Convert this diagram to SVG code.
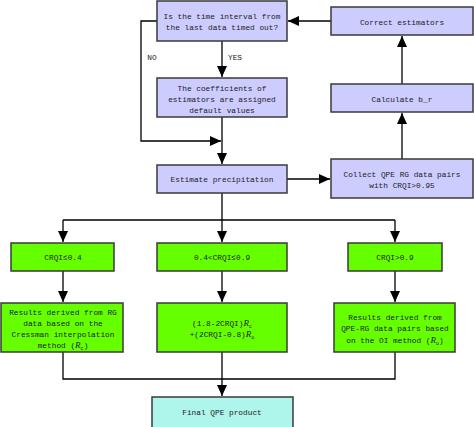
<svg xmlns="http://www.w3.org/2000/svg" width="474" height="427" viewBox="0 0 474 427">
<defs>
<marker id="ah" markerUnits="userSpaceOnUse" markerWidth="12" markerHeight="12" viewBox="0 0 12 12" refX="11" refY="6" orient="auto">
<path d="M0,1 L11,6 L0,11 Z" fill="#000"/>
</marker>
<style>
.b{fill:#ccccff;stroke:#3a3a3a;stroke-width:1.5}
.g{fill:#66ff00;stroke:#3a3a3a;stroke-width:1.5}
.c{fill:#aef5ec;stroke:#3a3a3a;stroke-width:1.5}
text{font-family:"Liberation Mono","DejaVu Sans Mono",monospace;font-size:7.8px;fill:#222;text-anchor:middle}
.l{fill:none;stroke:#000;stroke-width:1.3}
.a{fill:none;stroke:#000;stroke-width:1.3;marker-end:url(#ah)}
.ri{font-family:"Liberation Serif",serif;font-style:italic;font-size:9px}
.sb{font-size:5px}
</style>
</defs>
<rect width="474" height="427" fill="#fff"/>
<g id="connectors">
<path class="a" d="M331,21 H288"/>
<path class="a" d="M402,84 V36"/>
<path class="a" d="M157,21 H141 V141 H221"/>
<path class="a" d="M222,41 V77"/>
<path class="l" d="M222,117 V141"/>
<path class="a" d="M222,141 V164"/>
<path class="a" d="M287,179 H330"/>
<path class="a" d="M402,159 V113"/>
<path class="l" d="M222,193 V220 M63,220 H395"/>
<path class="a" d="M63,220 V242"/>
<path class="a" d="M222,220 V242"/>
<path class="a" d="M395,220 V242"/>
<path class="a" d="M63,271 V302"/>
<path class="a" d="M222,271 V302"/>
<path class="a" d="M395,271 V302"/>
<path class="l" d="M63,352 V379 H395 V352 M222,352 V379"/>
<path class="a" d="M222,379 V396"/>
<text x="152" y="60">NO</text>
<text x="235" y="60">YES</text>
</g>
<g id="timeout">
<rect class="b" x="157" y="1" width="130" height="40"/>
<text x="222" y="19">Is the time interval from</text>
<text x="222" y="30">the last data timed out?</text>
</g>
<g id="correct">
<rect class="b" x="331" y="7" width="142" height="28"/>
<text x="402" y="24.5">Correct estimators</text>
</g>
<g id="defaults">
<rect class="b" x="157" y="78" width="130" height="39"/>
<text x="222" y="91">The coefficients of</text>
<text x="222" y="102">estimators are assigned</text>
<text x="222" y="112.5">default values</text>
</g>
<g id="calc">
<rect class="b" x="331" y="84" width="142" height="28"/>
<text x="402" y="102">Calculate b_r</text>
</g>
<g id="estimate">
<rect class="b" x="157" y="165" width="130" height="28"/>
<text x="222" y="182">Estimate precipitation</text>
</g>
<g id="collect">
<rect class="b" x="331" y="159" width="142" height="39"/>
<text x="402" y="177">Collect QPE RG data pairs</text>
<text x="402" y="188">with CRQI&gt;0.95</text>
</g>
<g id="c1">
<rect class="g" x="11" y="243" width="103" height="28"/>
<text x="63" y="260">CRQI≤0.4</text>
</g>
<g id="c2">
<rect class="g" x="157" y="243" width="130" height="28"/>
<text x="222" y="260">0.4&lt;CRQI≤0.9</text>
</g>
<g id="c3">
<rect class="g" x="348" y="243" width="94" height="28"/>
<text x="395" y="260">CRQI&gt;0.9</text>
</g>
<g id="r1">
<rect class="g" x="1" y="303" width="122" height="49"/>
<text x="63" y="315">Results derived from RG</text>
<text x="63" y="326">data based on the</text>
<text x="63" y="337">Cressman interpolation</text>
<text x="63" y="348">method (<tspan class="ri">R</tspan><tspan class="sb" dy="1.5">c</tspan><tspan dy="-1.5">)</tspan></text>
</g>
<g id="r2">
<rect class="g" x="157" y="303" width="130" height="49"/>
<text x="222" y="326">(1.8-2CRQI)<tspan class="ri">R</tspan><tspan class="sb" dy="1.5">c</tspan></text>
<text x="222" y="337">+(2CRQI-0.8)<tspan class="ri">R</tspan><tspan class="sb" dy="1.5">o</tspan></text>
</g>
<g id="r3">
<rect class="g" x="334" y="303" width="121" height="49"/>
<text x="395" y="320">Results derived from</text>
<text x="395" y="331">QPE-RG data pairs based</text>
<text x="395" y="343">on the OI method (<tspan class="ri">R</tspan><tspan class="sb" dy="1.5">o</tspan><tspan dy="-1.5">)</tspan></text>
</g>
<g id="final">
<rect class="c" x="152" y="397" width="141" height="32"/>
<text x="222" y="415">Final QPE product</text>
</g>
</svg>
